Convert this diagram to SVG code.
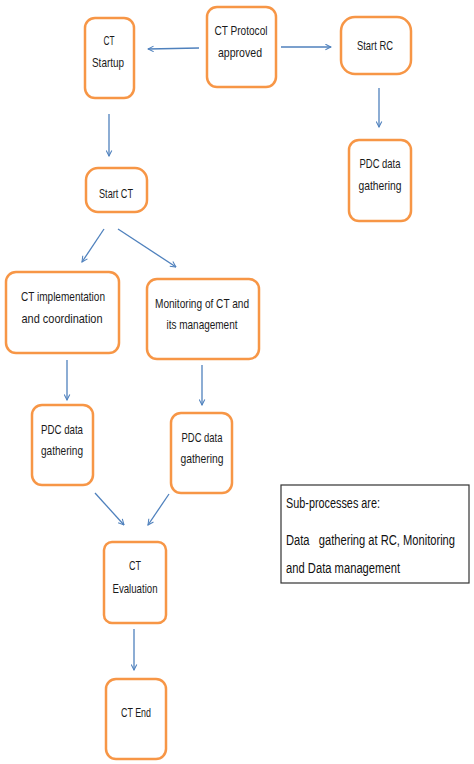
<svg xmlns="http://www.w3.org/2000/svg" width="474" height="764" viewBox="0 0 474 764">
<style>
.n{fill:#fff;stroke:#F79646;stroke-width:2.5}
.t{font-family:"Liberation Sans",Arial,sans-serif;font-size:13.5px;fill:#1a1a1a;text-anchor:middle}
.s{font-family:"Liberation Sans",Arial,sans-serif;font-size:11px;fill:#111}
.c line{stroke:#4F81BD;stroke-width:1.3;marker-end:url(#a)}
</style>
<defs>
<marker id="a" viewBox="0 0 10 10" refX="9" refY="5" markerWidth="7" markerHeight="7" orient="auto" markerUnits="userSpaceOnUse">
<path d="M1,1 L9,5 L1,9" fill="none" stroke="#4F81BD" stroke-width="1.5"/>
</marker>
</defs>
<rect width="474" height="764" fill="#fff"/>
<g class="c" id="connectors">
<line x1="199" y1="48" x2="148" y2="49"/>
<line x1="281" y1="47" x2="331" y2="47"/>
<line x1="109" y1="114" x2="109" y2="156"/>
<line x1="379" y1="88" x2="379" y2="127"/>
<line x1="104" y1="229" x2="82" y2="262"/>
<line x1="118" y1="229" x2="176" y2="267"/>
<line x1="67" y1="360" x2="67" y2="400"/>
<line x1="202" y1="365" x2="202" y2="405"/>
<line x1="95" y1="493" x2="124" y2="525"/>
<line x1="169" y1="494" x2="148" y2="525"/>
<line x1="134" y1="629" x2="134" y2="670"/>
</g>
<g id="protocol"><rect class="n" x="207" y="7" width="69" height="80" rx="10"/><text class="t" x="241" y="35" textLength="53" lengthAdjust="spacingAndGlyphs">CT Protocol</text><text class="t" x="240" y="57" textLength="44" lengthAdjust="spacingAndGlyphs">approved</text></g>
<g id="startup"><rect class="n" x="85" y="18" width="49" height="80" rx="10"/><text class="t" x="109" y="45" textLength="11" lengthAdjust="spacingAndGlyphs">CT</text><text class="t" x="108" y="67" textLength="32" lengthAdjust="spacingAndGlyphs">Startup</text></g>
<g id="startrc"><rect class="n" x="341" y="17" width="70" height="57" rx="14"/><text class="t" x="375" y="50" textLength="36" lengthAdjust="spacingAndGlyphs">Start RC</text></g>
<g id="pdc-rc"><rect class="n" x="349" y="140" width="62" height="81" rx="10"/><text class="t" x="380" y="168" textLength="41" lengthAdjust="spacingAndGlyphs">PDC data</text><text class="t" x="380" y="190" textLength="43" lengthAdjust="spacingAndGlyphs">gathering</text></g>
<g id="startct"><rect class="n" x="86" y="168" width="61" height="44" rx="12"/><text class="t" x="116" y="198" textLength="34" lengthAdjust="spacingAndGlyphs">Start CT</text></g>
<g id="impl"><rect class="n" x="6" y="272" width="113" height="81" rx="10"/><text class="t" x="63" y="301" textLength="84" lengthAdjust="spacingAndGlyphs">CT implementation</text><text class="t" x="62" y="323" textLength="81" lengthAdjust="spacingAndGlyphs">and coordination</text></g>
<g id="monitor"><rect class="n" x="147" y="279" width="112" height="80" rx="10"/><text class="t" x="202" y="308" textLength="94" lengthAdjust="spacingAndGlyphs">Monitoring of CT and</text><text class="t" x="202" y="329" textLength="71" lengthAdjust="spacingAndGlyphs">its management</text></g>
<g id="pdc-left"><rect class="n" x="32" y="405" width="61" height="80" rx="10"/><text class="t" x="62" y="434" textLength="42" lengthAdjust="spacingAndGlyphs">PDC data</text><text class="t" x="62" y="455" textLength="42" lengthAdjust="spacingAndGlyphs">gathering</text></g>
<g id="pdc-mid"><rect class="n" x="171" y="413" width="61" height="80" rx="10"/><text class="t" x="202" y="442" textLength="41" lengthAdjust="spacingAndGlyphs">PDC data</text><text class="t" x="202" y="463" textLength="43" lengthAdjust="spacingAndGlyphs">gathering</text></g>
<g id="eval"><rect class="n" x="104" y="542" width="62" height="81" rx="8"/><text class="t" x="135" y="570" textLength="12" lengthAdjust="spacingAndGlyphs">CT</text><text class="t" x="135" y="593" textLength="45" lengthAdjust="spacingAndGlyphs">Evaluation</text></g>
<g id="end"><rect class="n" x="106" y="679" width="60" height="80" rx="10"/><text class="t" x="136" y="717" textLength="30" lengthAdjust="spacingAndGlyphs">CT End</text></g>
<g id="note"><rect x="281" y="485" width="188" height="98" fill="#fff" stroke="#333" stroke-width="1.2"/>
<text class="s" transform="translate(286,508) scale(1,1.36)" textLength="94" lengthAdjust="spacingAndGlyphs">Sub-processes are:</text>
<text class="s" transform="translate(286,545) scale(1,1.36)" textLength="169" lengthAdjust="spacingAndGlyphs" xml:space="preserve">Data   gathering at RC, Monitoring</text>
<text class="s" transform="translate(286,573) scale(1,1.36)" textLength="114" lengthAdjust="spacingAndGlyphs">and Data management</text></g>
</svg>
